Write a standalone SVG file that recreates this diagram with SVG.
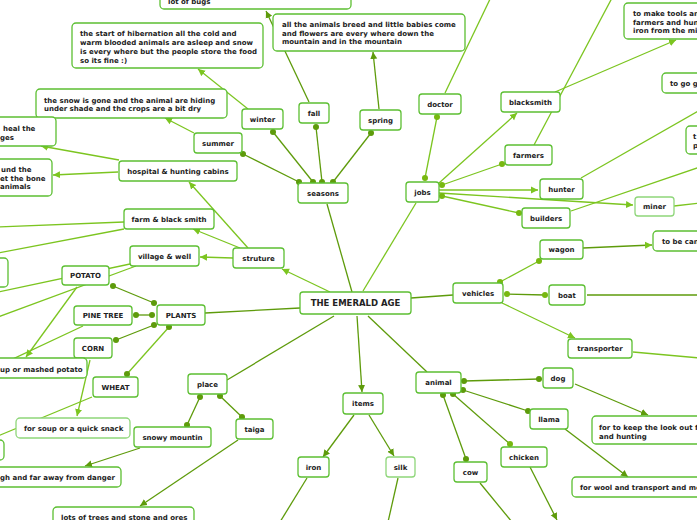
<svg xmlns="http://www.w3.org/2000/svg" width="697" height="520" viewBox="0 0 697 520">
<style>
.n rect{fill:#fff;stroke:#5cbf32;stroke-width:1.3}
.n.l rect{stroke:#8fd67a}
text{font-family:"DejaVu Sans","Verdana",sans-serif;font-weight:bold;font-size:7px;fill:#222}
.c{text-anchor:middle}
.root text{font-size:8.5px}
.lm{stroke:#7cc520;stroke-width:1.3;fill:none}
.ol{stroke:#5e9b0b;stroke-width:1.3;fill:none}
.dl{fill:#78b810}
.do{fill:#5e9b0b}
</style>
<defs>
<marker id="al" markerWidth="8" markerHeight="8" refX="7" refY="4" orient="auto" markerUnits="userSpaceOnUse"><path d="M0,0.5 L7,4 L0,7.5 Z" fill="#7cc520"/></marker>
<marker id="ao" markerWidth="8" markerHeight="8" refX="7" refY="4" orient="auto" markerUnits="userSpaceOnUse"><path d="M0,0.5 L7,4 L0,7.5 Z" fill="#5e9b0b"/></marker>
</defs>
<g id="connectors">
<line class="ol" x1="327" y1="204" x2="352" y2="292"/>
<line class="lm" x1="416" y1="203" x2="363" y2="291"/>
<line class="lm" x1="330" y1="292" x2="282" y2="269" marker-end="url(#al)"/>
<line class="ol" x1="411" y1="298" x2="453" y2="295"/>
<line class="ol" x1="300" y1="308" x2="205" y2="313"/>
<line class="ol" x1="334" y1="316" x2="227" y2="380"/>
<line class="ol" x1="357" y1="316" x2="362" y2="392" marker-end="url(#ao)"/>
<line class="ol" x1="368" y1="316" x2="427" y2="372"/>
<line class="ol" x1="299" y1="182" x2="243" y2="154"/>
<line class="ol" x1="313" y1="182" x2="273" y2="132"/>
<line class="ol" x1="322" y1="182" x2="316" y2="127"/>
<line class="ol" x1="333" y1="182" x2="371" y2="133"/>
<circle class="do" cx="299" cy="182" r="3"/><circle class="do" cx="313" cy="182" r="3"/><circle class="do" cx="322" cy="182" r="3"/><circle class="do" cx="333" cy="182" r="3"/>
<circle class="do" cx="243" cy="154" r="3"/><circle class="do" cx="273" cy="132" r="3"/><circle class="do" cx="316" cy="127" r="3"/><circle class="do" cx="371" cy="133" r="3"/>
<line class="lm" x1="248" y1="109" x2="198" y2="69" marker-end="url(#al)"/>
<line class="lm" x1="194" y1="133" x2="165" y2="118" marker-end="url(#al)"/>
<line class="ol" x1="309" y1="102" x2="266" y2="11" marker-end="url(#ao)"/>
<line class="ol" x1="379" y1="109" x2="373" y2="52" marker-end="url(#ao)"/>
<line class="lm" x1="425" y1="178" x2="437" y2="117"/>
<circle class="dl" cx="425" cy="178" r="3"/><circle class="dl" cx="437" cy="117" r="3"/>
<line class="lm" x1="445" y1="93" x2="492" y2="-5"/>
<line class="lm" x1="439" y1="183" x2="517" y2="113" marker-end="url(#al)"/>
<line class="lm" x1="442" y1="185" x2="502" y2="164"/>
<circle class="dl" cx="442" cy="185" r="3"/><circle class="dl" cx="502" cy="164" r="3"/>
<line class="lm" x1="439" y1="190" x2="538" y2="190" marker-end="url(#al)"/>
<line class="lm" x1="439" y1="193" x2="633" y2="205" marker-end="url(#al)"/>
<line class="lm" x1="442" y1="196" x2="519" y2="213"/>
<circle class="dl" cx="442" cy="196" r="3"/><circle class="dl" cx="519" cy="213" r="3"/>
<line class="lm" x1="534" y1="145" x2="612" y2="-2"/>
<line class="lm" x1="555" y1="92" x2="676" y2="40" marker-end="url(#al)"/>
<line class="lm" x1="581" y1="178" x2="700" y2="110"/>
<line class="lm" x1="571" y1="211" x2="700" y2="167"/>
<line class="lm" x1="674" y1="206" x2="700" y2="203"/>
<line class="lm" x1="500" y1="282" x2="539" y2="261"/>
<circle class="dl" cx="500" cy="282" r="3"/><circle class="dl" cx="539" cy="261" r="3"/>
<line class="ol" x1="507" y1="294" x2="545" y2="295"/>
<circle class="dl" cx="507" cy="294" r="3"/><circle class="dl" cx="545" cy="295" r="3"/>
<line class="lm" x1="502" y1="303" x2="575" y2="338" marker-end="url(#al)"/>
<line class="ol" x1="583" y1="248" x2="652" y2="245" marker-end="url(#al)"/>
<line class="ol" x1="587" y1="295" x2="700" y2="295"/>
<line class="lm" x1="633" y1="352" x2="700" y2="358"/>
<line class="ol" x1="464" y1="381" x2="539" y2="379"/>
<line class="ol" x1="463" y1="390" x2="528" y2="411"/>
<line class="ol" x1="453" y1="394" x2="510" y2="444"/>
<line class="ol" x1="443" y1="395" x2="466" y2="459"/>
<circle class="do" cx="464" cy="381" r="3"/><circle class="do" cx="539" cy="379" r="3"/>
<circle class="do" cx="463" cy="390" r="3"/><circle class="do" cx="528" cy="411" r="3"/>
<circle class="do" cx="453" cy="394" r="3"/><circle class="dl" cx="510" cy="444" r="3"/>
<circle class="do" cx="443" cy="395" r="3"/><circle class="do" cx="466" cy="459" r="3"/>
<line class="ol" x1="575" y1="384" x2="648" y2="415" marker-end="url(#ao)"/>
<line class="ol" x1="565" y1="429" x2="628" y2="477" marker-end="url(#ao)"/>
<line class="ol" x1="480" y1="483" x2="512" y2="522"/>
<line class="ol" x1="530" y1="467" x2="557" y2="520" marker-end="url(#ao)"/>
<line class="ol" x1="354" y1="415" x2="323" y2="457" marker-end="url(#ao)"/>
<line class="ol" x1="369" y1="415" x2="394" y2="456" marker-end="url(#ao)"/>
<line class="ol" x1="307" y1="478" x2="280" y2="522"/>
<line class="ol" x1="398" y1="478" x2="388" y2="522"/>
<line class="ol" x1="200" y1="397" x2="187" y2="425"/>
<line class="ol" x1="220" y1="396" x2="242" y2="417"/>
<circle class="do" cx="200" cy="397" r="3"/><circle class="do" cx="187" cy="425" r="3"/>
<circle class="do" cx="220" cy="396" r="3"/><circle class="do" cx="242" cy="417" r="3"/>
<line class="ol" x1="140" y1="448" x2="85" y2="466" marker-end="url(#ao)"/>
<line class="ol" x1="238" y1="440" x2="140" y2="506" marker-end="url(#ao)"/>
<line class="ol" x1="154" y1="303" x2="113" y2="286"/>
<line class="ol" x1="152" y1="315" x2="136" y2="315"/>
<line class="ol" x1="154" y1="325" x2="116" y2="340"/>
<line class="lm" x1="169" y1="327" x2="127" y2="374"/>
<circle class="do" cx="154" cy="303" r="3"/><circle class="do" cx="113" cy="286" r="3"/>
<circle class="do" cx="152" cy="315" r="3"/><circle class="do" cx="136" cy="315" r="3"/>
<circle class="do" cx="154" cy="325" r="3"/><circle class="do" cx="116" cy="340" r="3"/>
<circle class="do" cx="169" cy="327" r="3"/><circle class="do" cx="127" cy="374" r="3"/>
<line class="lm" x1="77" y1="287" x2="26" y2="357" marker-end="url(#al)"/>
<line class="lm" x1="83" y1="326" x2="-2" y2="366"/>
<line class="lm" x1="90" y1="360" x2="77" y2="416" marker-end="url(#al)"/>
<line class="lm" x1="92" y1="397" x2="-2" y2="436"/>
<line class="lm" x1="233" y1="258" x2="200" y2="257" marker-end="url(#al)"/>
<line class="lm" x1="240" y1="248" x2="193" y2="229" marker-end="url(#al)"/>
<line class="lm" x1="248" y1="248" x2="189" y2="182" marker-end="url(#al)"/>
<line class="lm" x1="119" y1="160" x2="41" y2="146" marker-end="url(#al)"/>
<line class="lm" x1="118" y1="172" x2="53" y2="175" marker-end="url(#al)"/>
<line class="lm" x1="124" y1="222" x2="-2" y2="227"/>
<line class="lm" x1="124" y1="229" x2="-2" y2="253"/>
<line class="lm" x1="130" y1="264" x2="-2" y2="292"/>
<line class="lm" x1="136" y1="266" x2="-2" y2="317"/>
</g>
<g id="root" class="n root"><rect x="300" y="292" width="111" height="22" rx="3"/><text class="c" x="355.5" y="306">THE EMERALD AGE</text></g>
<g id="seasons" class="n"><rect x="298" y="183" width="50" height="20" rx="3"/><text class="c" x="323" y="195.5">seasons</text></g>
<g id="jobs" class="n"><rect x="406" y="182" width="33" height="20" rx="3"/><text class="c" x="422.5" y="194.5">jobs</text></g>
<g id="struture" class="n"><rect x="233" y="248" width="51" height="20" rx="3"/><text class="c" x="258.5" y="260.5">struture</text></g>
<g id="vehicles" class="n"><rect x="453" y="283" width="50" height="20" rx="3"/><text class="c" x="478" y="295.5">vehicles</text></g>
<g id="plants" class="n"><rect x="157" y="305" width="48" height="20" rx="3"/><text class="c" x="181" y="317.5">PLANTS</text></g>
<g id="place" class="n"><rect x="188" y="374" width="39" height="20" rx="3"/><text class="c" x="207.5" y="386.5">place</text></g>
<g id="items" class="n"><rect x="343" y="393" width="40" height="21" rx="3"/><text class="c" x="363" y="406">items</text></g>
<g id="animal" class="n"><rect x="416" y="372" width="45" height="21" rx="3"/><text class="c" x="438.5" y="385">animal</text></g>
<g id="winter" class="n"><rect x="242" y="109" width="41" height="20" rx="3"/><text class="c" x="262.5" y="121.5">winter</text></g>
<g id="fall" class="n"><rect x="299" y="103" width="30" height="20" rx="3"/><text class="c" x="314" y="115.5">fall</text></g>
<g id="spring" class="n"><rect x="360" y="110" width="41" height="20" rx="3"/><text class="c" x="380.5" y="122.5">spring</text></g>
<g id="summer" class="n"><rect x="194" y="133" width="48" height="20" rx="3"/><text class="c" x="218" y="145.5">summer</text></g>
<g id="doctor" class="n"><rect x="419" y="94" width="42" height="20" rx="3"/><text class="c" x="440" y="106.5">doctor</text></g>
<g id="blacksmith" class="n"><rect x="501" y="92" width="59" height="20" rx="3"/><text class="c" x="530.5" y="104.5">blacksmith</text></g>
<g id="farmers" class="n"><rect x="505" y="145" width="47" height="20" rx="3"/><text class="c" x="528.5" y="157.5">farmers</text></g>
<g id="hunter" class="n"><rect x="540" y="179" width="43" height="20" rx="3"/><text class="c" x="561.5" y="191.5">hunter</text></g>
<g id="builders" class="n"><rect x="522" y="208" width="48" height="20" rx="3"/><text class="c" x="546" y="220.5">builders</text></g>
<g id="miner" class="n l"><rect x="635" y="197" width="39" height="19" rx="3"/><text class="c" x="654.5" y="209">miner</text></g>
<g id="wagon" class="n"><rect x="540" y="240" width="43" height="19" rx="3"/><text class="c" x="561.5" y="252">wagon</text></g>
<g id="boat" class="n"><rect x="549" y="285" width="36" height="20" rx="3"/><text class="c" x="567" y="297.5">boat</text></g>
<g id="transporter" class="n"><rect x="568" y="339" width="64" height="19" rx="3"/><text class="c" x="600" y="351">transporter</text></g>
<g id="dog" class="n"><rect x="543" y="368" width="30" height="20" rx="3"/><text class="c" x="558" y="380.5">dog</text></g>
<g id="llama" class="n"><rect x="530" y="409" width="38" height="20" rx="3"/><text class="c" x="549" y="421.5">llama</text></g>
<g id="chicken" class="n"><rect x="501" y="447" width="46" height="20" rx="3"/><text class="c" x="524" y="459.5">chicken</text></g>
<g id="cow" class="n"><rect x="454" y="462" width="33" height="20" rx="3"/><text class="c" x="470.5" y="474.5">cow</text></g>
<g id="iron" class="n"><rect x="298" y="457" width="31" height="20" rx="3"/><text class="c" x="313.5" y="469.5">iron</text></g>
<g id="silk" class="n l"><rect x="386" y="457" width="29" height="20" rx="3"/><text class="c" x="400.5" y="469.5">silk</text></g>
<g id="taiga" class="n"><rect x="236" y="419" width="37" height="20" rx="3"/><text class="c" x="254.5" y="431.5">taiga</text></g>
<g id="snowy" class="n"><rect x="134" y="427" width="77" height="20" rx="3"/><text class="c" x="172.5" y="439.5">snowy mountin</text></g>
<g id="wheat" class="n"><rect x="93" y="377" width="45" height="20" rx="3"/><text class="c" x="115.5" y="389.5">WHEAT</text></g>
<g id="corn" class="n"><rect x="74" y="338" width="38" height="20" rx="3"/><text class="c" x="93" y="350.5">CORN</text></g>
<g id="pine" class="n"><rect x="74" y="306" width="58" height="19" rx="3"/><text class="c" x="103" y="318">PINE TREE</text></g>
<g id="potato" class="n"><rect x="62" y="266" width="47" height="19" rx="3"/><text class="c" x="85.5" y="278">POTATO</text></g>
<g id="village" class="n"><rect x="130" y="246" width="69" height="20" rx="3"/><text class="c" x="164.5" y="258.5">village &amp; well</text></g>
<g id="farm" class="n"><rect x="124" y="209" width="90" height="20" rx="3"/><text class="c" x="169" y="221.5">farm &amp; black smith</text></g>
<g id="hospital" class="n"><rect x="119" y="161" width="118" height="20" rx="3"/><text class="c" x="178" y="173.5">hospital &amp; hunting cabins</text></g>
<g id="bugs" class="n"><rect x="160" y="-20" width="191" height="29" rx="4"/><text x="168" y="4">lot of bugs</text></g>
<g id="winter-note" class="n"><rect x="72" y="23" width="191" height="45" rx="4"/><text x="80" y="36">the start of hibernation all the cold and</text><text x="80" y="45">warm blooded animals are asleep and snow</text><text x="80" y="54">is every where but the people store the food</text><text x="80" y="63">so its fine :)</text></g>
<g id="summer-note" class="n"><rect x="36" y="89" width="191" height="29" rx="4"/><text x="44" y="103">the snow is gone and the animal are hiding</text><text x="44" y="111">under shade and the crops are a bit dry</text></g>
<g id="spring-note" class="n"><rect x="273" y="14" width="192" height="37" rx="4"/><text x="282" y="27">all the animals breed and little babies come</text><text x="282" y="36">and flowers are every where down the</text><text x="282" y="44">mountain and in the mountain</text></g>
<g id="heal" class="n"><rect x="-100" y="117" width="156" height="29" rx="4"/><text x="3" y="131">heal the</text><text x="0" y="140">ges</text></g>
<g id="bone" class="n"><rect x="-100" y="159" width="152" height="37" rx="4"/><text x="1" y="172">und the</text><text x="0" y="181">et the bone</text><text x="0" y="189">animals</text></g>
<g id="left1" class="n"><rect x="-100" y="258" width="108" height="29" rx="4"/></g>
<g id="mashed" class="n"><rect x="-100" y="358" width="187" height="20" rx="4"/><text x="0" y="372">up or mashed potato</text></g>
<g id="snack" class="n l"><rect x="16" y="418" width="114" height="20" rx="4"/><text x="24" y="430.5">for soup or a quick snack</text></g>
<g id="left2" class="n"><rect x="-100" y="440" width="104" height="20" rx="4"/></g>
<g id="danger" class="n"><rect x="-100" y="467" width="221" height="20" rx="4"/><text x="0" y="479.5">gh and far away from danger</text></g>
<g id="trees" class="n"><rect x="53" y="507" width="141" height="20" rx="4"/><text x="61" y="519.5">lots of trees and stone and ores</text></g>
<g id="tools" class="n"><rect x="624" y="3" width="150" height="36" rx="4"/><text x="633" y="16">to make tools an</text><text x="633" y="24.5">farmers and hun</text><text x="633" y="32.5">iron from the mi</text></g>
<g id="gogo" class="n"><rect x="662" y="73" width="100" height="20" rx="4"/><text x="670" y="86">to go g</text></g>
<g id="tp" class="n"><rect x="686" y="126" width="100" height="28" rx="4"/><text x="693" y="139">t</text><text x="693" y="148">p</text></g>
<g id="becan" class="n"><rect x="653" y="231" width="100" height="20" rx="4"/><text x="662" y="244">to be can</text></g>
<g id="lookout" class="n"><rect x="592" y="416" width="200" height="28" rx="4"/><text x="599" y="430">for to keep the look out f</text><text x="599" y="438.5">and hunting</text></g>
<g id="wool" class="n"><rect x="572" y="477" width="200" height="20" rx="4"/><text x="580" y="490">for wool and transport and me</text></g>
</svg>
